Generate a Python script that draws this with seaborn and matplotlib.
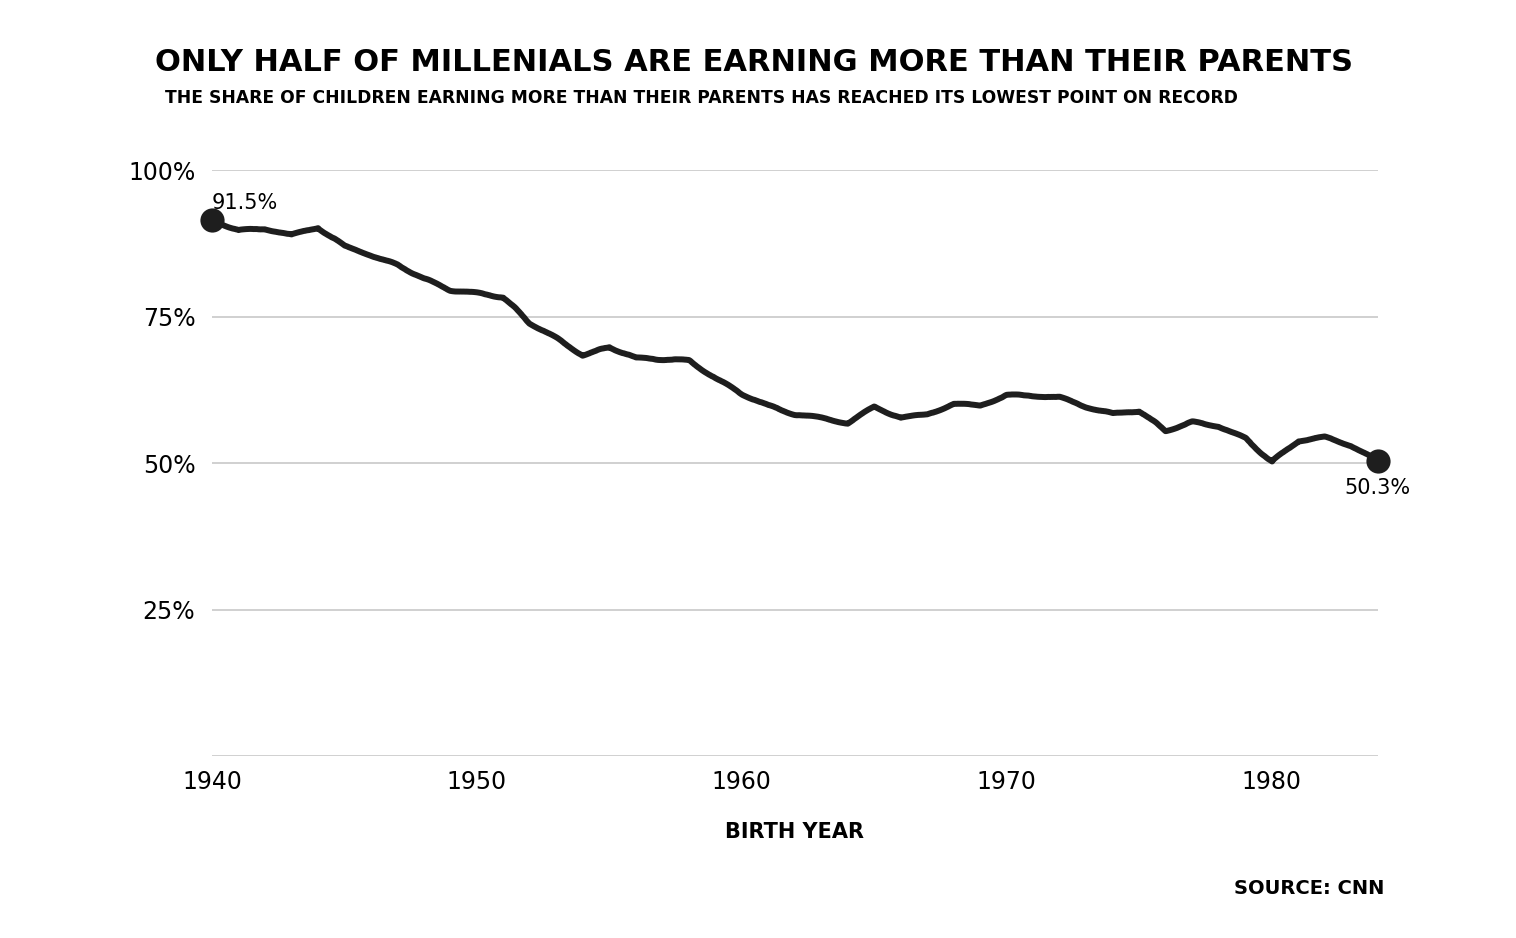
import numpy as np
import pandas as pd
import matplotlib
matplotlib.use("Agg")
import matplotlib.pyplot as plt
import seaborn as sns

# Share of children earning more than their parents, by birth year
birth_years = list(range(1940, 1985))
share_pct = [91.5, 89.7, 90.0, 88.9, 90.2, 87.0, 85.5, 83.8, 81.5, 79.5,
             79.0, 78.3, 73.9, 71.3, 68.4, 69.8, 67.9, 67.7, 67.5, 64.5,
             61.8, 59.8, 58.3, 57.7, 56.8, 59.6, 57.7, 58.3, 60.1, 59.8,
             61.6, 61.5, 61.2, 59.6, 58.4, 58.9, 55.5, 57.0, 56.3, 54.2,
             50.2, 53.8, 54.4, 53.0, 50.3]
y_ticks = [0, 25, 50, 75, 100]
y_tick_labels = ["", "25%", "50%", "75%", "100%"]
x_ticks = [1940, 1950, 1960, 1970, 1980]

df = pd.DataFrame({"year": birth_years, "share": share_pct})
ends = df.iloc[[0, -1]]

sns.set_theme(style="white")
plt.rcParams["font.family"] = ["DejaVu Sans"]
plt.rcParams["text.color"] = "black"
plt.rcParams["xtick.color"] = "black"
plt.rcParams["ytick.color"] = "black"
plt.rcParams["axes.labelcolor"] = "black"

fig = plt.figure(figsize=(15.16, 9.38), dpi=100)
ax = fig.add_axes([0.1398, 0.194, 0.769, 0.6247])

sns.lineplot(data=df, x="year", y="share", ax=ax, color="#1e1e1e", linewidth=4.3)
ax.lines[0].set_sketch_params(scale=0.8, length=60, randomness=3)
ax.lines[0].set_solid_capstyle("round")
ax.lines[0].set_solid_joinstyle("round")
sns.scatterplot(data=ends, x="year", y="share", ax=ax, color="#1e1e1e", s=260,
                edgecolor="#1e1e1e", zorder=5, clip_on=False)

# end labels
ax.annotate(f"{share_pct[0]}%", (birth_years[0], share_pct[0]), xytext=(0, 12),
            textcoords="offset points", ha="left", va="center", fontsize=15)
ax.annotate(f"{share_pct[-1]}%", (birth_years[-1], share_pct[-1]), xytext=(0, -19),
            textcoords="offset points", ha="center", va="center", fontsize=15)

ax.set_xlim(1940, 1984)
ax.set_ylim(0, 100)
ax.set_yticks(y_ticks)
ax.set_yticklabels(y_tick_labels, fontsize=17)
ax.set_xticks(x_ticks)
ax.set_xticklabels([str(x) for x in x_ticks], fontsize=17)
ax.tick_params(axis="y", length=0, pad=12)
ax.tick_params(axis="x", length=0, pad=10)
ax.yaxis.grid(True, color="#c8c8c8", linewidth=1.2)
ax.xaxis.grid(False)
for s in ax.spines.values():
    s.set_visible(False)

ax.set_xlabel("BIRTH YEAR", fontsize=15, fontweight="bold", labelpad=20)
ax.set_ylabel("")

title = fig.text(0.102, 0.933, "ONLY HALF OF MILLENIALS ARE EARNING MORE THAN THEIR PARENTS",
                 fontsize=30, fontweight="bold", ha="left", va="center")
subtitle = fig.text(0.109, 0.896,
                    "THE SHARE OF CHILDREN EARNING MORE THAN THEIR PARENTS HAS REACHED ITS LOWEST POINT ON RECORD",
                    fontsize=13, fontweight="bold", ha="left", va="center")
fig.text(0.913, 0.053, "SOURCE: CNN", fontsize=14, fontweight="bold", ha="right", va="center")

# shrink header texts to the width they take in the reference
fig.canvas.draw()
for txt, target_px in [(title, 1200), (subtitle, 1060)]:
    w = txt.get_window_extent().width
    txt.set_fontsize(txt.get_fontsize() * target_px / w)

fig.savefig("out.png", dpi=100, facecolor="white")
